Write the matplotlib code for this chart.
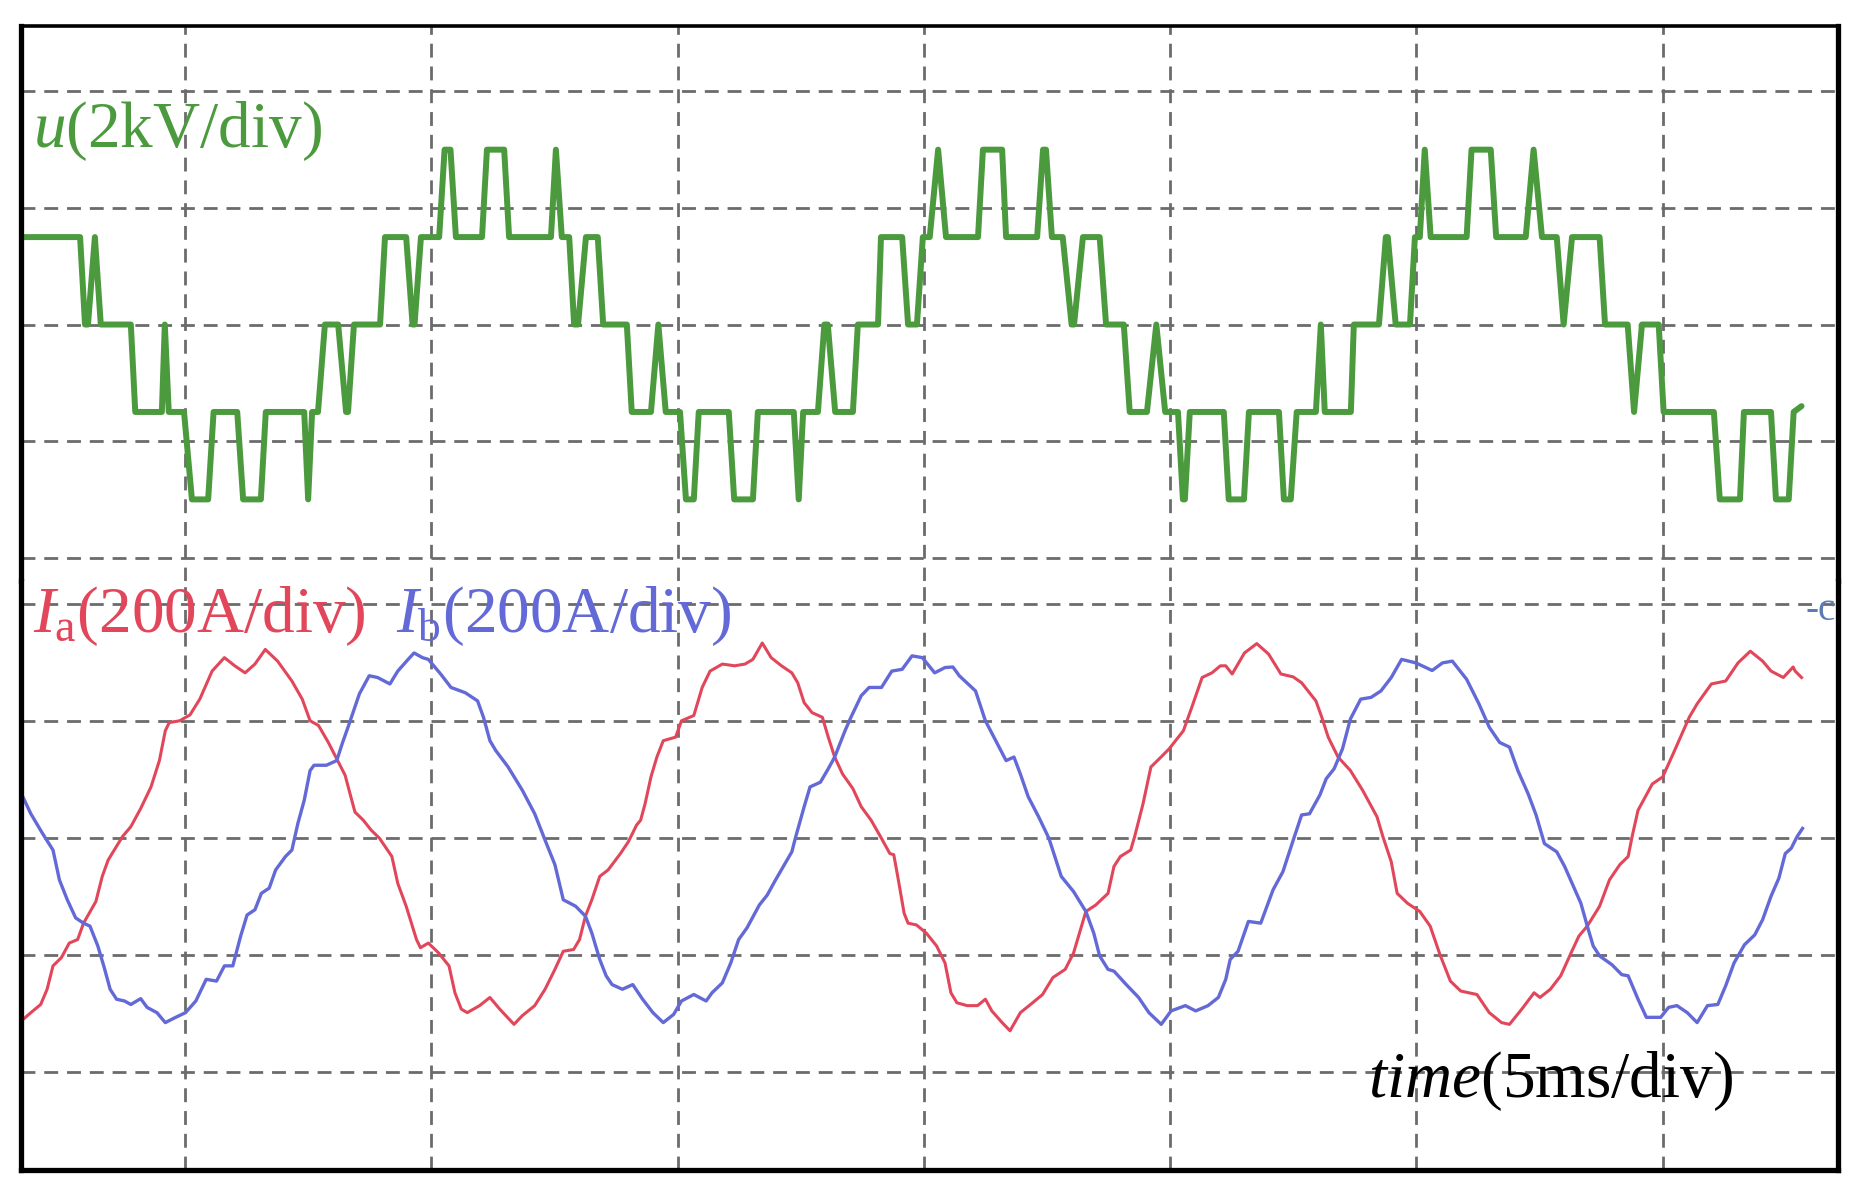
import matplotlib
matplotlib.use("Agg")
import matplotlib.pyplot as plt

# voltage u (kV) -- staircase breakpoints, time in ms
u_t = [-3.31, -2.13, -2.03, -1.97, -1.83, -1.71, -1.10, -1.01, -0.47, -0.41,
       -0.33, -0.02, 0.14, 0.47, 0.58, 1.06, 1.18, 1.54, 1.64, 2.42,
       2.50, 2.58, 2.70, 2.84, 3.11, 3.27, 3.31, 3.43, 3.96, 4.06,
       4.49, 4.62, 4.66, 4.79, 5.16, 5.27, 5.39, 5.50, 6.03, 6.13,
       6.48, 6.58, 7.43, 7.53, 7.65, 7.80, 7.90, 7.98, 8.14, 8.38,
       8.49, 8.97, 9.07, 9.46, 9.61, 9.76, 10.05, 10.17, 10.33, 10.43,
       11.04, 11.15, 11.53, 11.63, 12.36, 12.46, 12.55, 12.85, 12.98, 13.05,
       13.20, 13.56, 13.66, 14.07, 14.13, 14.56, 14.68, 14.86, 14.98, 15.12,
       15.29, 15.45, 16.10, 16.20, 16.59, 16.67, 17.30, 17.42, 17.48, 17.60,
       17.82, 18.00, 18.05, 18.23, 18.57, 18.70, 19.06, 19.18, 19.53, 19.72,
       19.90, 20.16, 20.26, 20.30, 20.40, 21.09, 21.19, 21.50, 21.60, 22.21,
       22.31, 22.45, 22.57, 22.96, 23.06, 23.14, 23.67, 23.73, 24.24, 24.38,
       24.42, 24.58, 24.87, 24.97, 25.07, 25.17, 25.29, 26.02, 26.12, 26.51,
       26.62, 27.22, 27.38, 27.55, 27.85, 27.99, 28.16, 28.72, 28.83, 29.29,
       29.42, 29.58, 29.92, 30.02, 31.04, 31.16, 31.57, 31.65, 32.20, 32.30,
       32.56, 32.66, 32.82]
u_kv = [1.5, 1.5, 0, 0, 1.5, 0, 0, -1.5, -1.5, 0,
        -1.5, -1.5, -3, -3, -1.5, -1.5, -3, -3, -1.5, -1.5,
        -3, -1.5, -1.5, 0, 0, -1.5, -1.5, 0, 0, 1.5,
        1.5, 0, 0, 1.5, 1.5, 3, 3, 1.5, 1.5, 3,
        3, 1.5, 1.5, 3, 1.5, 1.5, 0, 0, 1.5, 1.5,
        0, 0, -1.5, -1.5, 0, -1.5, -1.5, -3, -3, -1.5,
        -1.5, -3, -3, -1.5, -1.5, -3, -1.5, -1.5, 0, 0,
        -1.5, -1.5, 0, 0, 1.5, 1.5, 0, 0, 1.5, 1.5,
        3, 1.5, 1.5, 3, 3, 1.5, 1.5, 3, 3, 1.5,
        1.5, 0, 0, 1.5, 1.5, 0, 0, -1.5, -1.5, 0,
        -1.5, -1.5, -3, -3, -1.5, -1.5, -3, -3, -1.5, -1.5,
        -3, -3, -1.5, -1.5, 0, -1.5, -1.5, 0, 0, 1.5,
        1.5, 0, 0, 1.5, 1.5, 3, 1.5, 1.5, 3, 3,
        1.5, 1.5, 3, 1.5, 1.5, 0, 1.5, 1.5, 0, 0,
        -1.5, 0, 0, -1.5, -1.5, -3, -3, -1.5, -1.5, -3,
        -3, -1.5, -1.4]

# phase current Ia (A)
ia_t = [-3.32, -3.13, -2.93, -2.80, -2.68, -2.51, -2.35, -2.18, -2.06, -1.81,
        -1.68, -1.56, -1.27, -1.10, -0.90, -0.69, -0.52, -0.40, -0.32, -0.11,
        0.10, 0.30, 0.55, 0.80, 1.01, 1.22, 1.42, 1.63, 1.88, 2.17,
        2.38, 2.54, 2.71, 2.91, 3.08, 3.25, 3.45, 3.62, 3.78, 3.95,
        4.20, 4.32, 4.49, 4.70, 4.78, 4.94, 5.15, 5.36, 5.48, 5.61,
        5.73, 5.98, 6.19, 6.39, 6.68, 6.85, 7.10, 7.31, 7.51, 7.68,
        7.89, 8.01, 8.13, 8.26, 8.42, 8.59, 8.84, 9.00, 9.17,
        9.25, 9.34, 9.46, 9.58, 9.71, 9.96, 10.08, 10.33, 10.50, 10.66,
        10.91, 11.16, 11.37, 11.53, 11.72, 11.90, 12.11, 12.32, 12.44, 12.57,
        12.73, 12.94, 13.06, 13.19, 13.35, 13.56, 13.73, 13.93, 14.14, 14.31,
        14.39, 14.47, 14.60, 14.68, 14.85, 15.05, 15.26, 15.43, 15.55, 15.67,
        15.88, 16.09, 16.25, 16.38, 16.59, 16.75, 16.96, 17.21, 17.41, 17.62,
        17.87, 18.04, 18.16, 18.29, 18.49, 18.74, 18.86, 18.99, 19.20, 19.28,
        19.45, 19.61, 19.78, 19.98, 20.27, 20.44, 20.65, 20.85, 21.02,
        21.13, 21.26, 21.51, 21.76, 22.00, 22.25, 22.50, 22.67, 22.96, 23.08,
        23.21, 23.41, 23.66, 23.91, 24.20, 24.32, 24.49, 24.61, 24.82, 25.07,
        25.28, 25.48, 25.69, 25.90, 26.23, 26.48, 26.73, 26.89, 27.14, 27.39,
        27.51, 27.72, 27.93, 28.14, 28.30, 28.47, 28.72, 28.92, 29.13, 29.30,
        29.38, 29.50, 29.79, 30.00, 30.21, 30.54, 30.70, 30.99, 31.28, 31.53,
        31.78, 32.03, 32.20, 32.45, 32.65, 32.69, 32.82]
ia_a = [-313, -299, -285, -259, -219, -205, -180, -174, -146, -109,
        -66, -38, 2, 19, 50, 87, 132, 183, 197, 200,
        210, 237, 285, 308, 294, 282, 297, 322, 302, 268,
        237, 200, 192, 163, 135, 107, 44, 30, 13, -1,
        -32, -78, -117, -174, -188, -180, -197, -219, -265, -293,
        -299, -287, -273, -293, -319, -304, -287, -259, -225, -194,
        -191, -174, -134, -106, -66, -55, -27, -7, 22,
        30, 58, 104, 138, 166, 172, 200, 209, 257, 285,
        297, 294, 297, 305, 333, 308, 294, 282, 265, 231,
        214, 206, 172, 138, 109, 84, 53, 30, -1, -27,
        -29, -66, -129, -146, -149, -163, -185, -214, -265, -282,
        -287, -287, -276, -296, -316, -330, -299, -282, -268, -239,
        -225, -197, -163, -126, -115, -95, -49, -32, -21, 2,
        58, 121, 135, 152, 183, 223, 274, 282, 294,
        294, 280, 316, 332, 314, 280, 275, 265, 234, 206,
        172, 138, 115, 81, 36, 2, -41, -95, -112, -126,
        -151, -200, -245, -262, -268, -299, -316, -319, -293, -265,
        -273, -259, -236, -197, -168, -151, -117, -72, -46, -32,
        2, 47, 92, 104, 143, 206, 229, 263, 268, 299,
        319, 302, 285, 274, 292, 285, 274]

# phase current Ib (A)
ib_t = [-3.32, -3.13, -2.89, -2.68, -2.55, -2.39, -2.22, -2.06, -1.93, -1.77,
        -1.64, -1.52, -1.39, -1.23, -1.10, -0.90, -0.77, -0.57, -0.40, -0.19,
        0.01, 0.22, 0.35, 0.43, 0.64, 0.80, 0.97, 1.13, 1.26, 1.42,
        1.55, 1.71, 1.84, 2.04, 2.17, 2.29, 2.42, 2.54, 2.62, 2.87,
        3.08, 3.20, 3.33, 3.54, 3.74, 3.91, 4.16, 4.32, 4.53, 4.65,
        4.82, 4.94, 5.19, 5.40, 5.69, 5.94, 6.06, 6.19, 6.31, 6.56,
        6.85, 7.10, 7.31, 7.51, 7.68, 7.93, 8.13, 8.26, 8.42,
        8.55, 8.67, 8.88, 9.09, 9.29, 9.50, 9.71, 9.92, 10.08, 10.33,
        10.58, 10.70, 10.91, 11.08, 11.24, 11.41, 11.66, 11.82, 11.99, 12.32,
        12.40, 12.57, 12.69, 12.90, 13.06, 13.19, 13.40, 13.52, 13.73, 13.89,
        14.14, 14.35, 14.56, 14.76, 14.97, 15.22, 15.43, 15.59, 15.72, 16.05,
        16.25, 16.46, 16.67, 16.83, 16.96, 17.12, 17.33, 17.54, 17.66, 17.79,
        18.04, 18.29, 18.45, 18.57, 18.74, 18.86, 19.11, 19.36, 19.57, 19.82,
        20.02, 20.31, 20.52, 20.77, 20.98,
        21.13, 21.22, 21.38, 21.59, 21.84, 22.09, 22.29, 22.50, 22.67, 22.83,
        23.04, 23.17, 23.33, 23.50, 23.66, 23.87, 24.08, 24.28, 24.49, 24.70,
        24.99, 25.32, 25.53, 25.73, 26.02, 26.27, 26.48, 26.69, 26.89, 27.06,
        27.27, 27.43, 27.60, 27.85, 28.01, 28.22, 28.34, 28.47, 28.59, 28.72,
        28.97, 29.17, 29.30, 29.50, 29.67, 29.96, 30.12, 30.29, 30.50, 30.70,
        30.91, 31.12, 31.28, 31.45, 31.66, 31.87, 32.03, 32.20, 32.36, 32.49,
        32.61, 32.73, 32.84]
ib_a = [75, 41, 7, -21, -72, -106, -137, -146, -151, -185,
        -222, -259, -276, -279, -285, -275, -290, -299, -316, -307,
        -299, -279, -256, -242, -245, -219, -219, -168, -132, -123,
        -95, -86, -55, -32, -21, 24, 64, 115, 124, 124,
        132, 163, 194, 246, 277, 274, 263, 285, 305, 316,
        308, 305, 280, 257, 248, 234, 206, 166, 149, 121,
        81, 41, -4, -46, -106, -117, -134, -163, -208,
        -236, -251, -259, -251, -276, -299, -316, -302, -279, -268,
        -279, -265, -248, -214, -174, -154, -115, -98, -72, -24,
        2, 53, 87, 95, 118, 138, 183, 206, 243, 257,
        257, 285, 288, 311, 308, 282, 291, 292, 277, 251,
        200, 166, 132, 138, 109, 70, 36, -1, -32, -66,
        -92, -126, -163, -202, -225, -228, -251, -273, -299, -319,
        -296, -287, -296, -287, -273,
        -242, -208, -194, -143, -146, -89, -58, -4, 39, 41,
        73, 101, 118, 152, 203, 237, 240, 251, 274, 305,
        299, 286, 299, 302, 271, 229, 189, 163, 155, 115,
        75, 39, -10, -24, -49, -89, -112, -151, -185, -202,
        -217, -234, -236, -276, -307, -307, -290, -287, -299, -316,
        -287, -285, -253, -214, -183, -166, -140, -100, -69, -27,
        -18, 2, 16]

grid_t = [0, 5, 10, 15, 20, 25, 30]
grid_u = [-4, -2, 0, 2, 4]
grid_i = [-400, -200, 0, 200, 400]

green = '#4b9a3d'
red = '#e2465a'
blue = '#6369d6'
gridc = '#6b6b6b'

plt.rcParams['mathtext.fontset'] = 'custom'
plt.rcParams['mathtext.rm'] = 'Liberation Serif'
plt.rcParams['mathtext.it'] = 'Liberation Serif:italic'

W, H = 1860, 1195
fig = plt.figure(figsize=(W / 100, H / 100), dpi=100)


def box(x0, y0, x1, y1):
    return [x0 / W, 1 - y1 / H, (x1 - x0) / W, (y1 - y0) / H]


ax_u = fig.add_axes(box(20.5, 25.5, 1837.5, 581))
ax_i = fig.add_axes(box(20.5, 581, 1837.5, 1170))

for ax in (ax_u, ax_i):
    ax.set_xlim(-3.34, 33.55)
    ax.set_xticks(grid_t)
    ax.tick_params(length=0, labelbottom=False, labelleft=False)
    ax.grid(True, color=gridc, lw=2.0, ls=(0, (5.0, 3.2)))
    ax.set_axisbelow(True)
    for s in ('left', 'right'):
        ax.spines[s].set_linewidth(3.8)
        ax.spines[s].set_color('black')

ax_u.set_ylim(-4.40, 5.13)
ax_u.set_yticks(grid_u)
ax_u.spines['bottom'].set_visible(False)
ax_u.spines['top'].set_linewidth(2.6)

ax_i.set_ylim(-568, 439)
ax_i.set_yticks(grid_i)
ax_i.spines['top'].set_visible(False)
ax_i.spines['bottom'].set_linewidth(3.8)

ax_u.plot(u_t, u_kv, color=green, lw=4.3, solid_joinstyle='round',
          solid_capstyle='round')
ax_i.plot(ia_t, ia_a, color=red, lw=2.2, solid_joinstyle='round')
ax_i.plot(ib_t, ib_a, color=blue, lw=2.4, solid_joinstyle='round')

# small stray mark at the right edge of the current screen
ax_i.text(32.9, 388, '-c', color='#5a7bb5', fontsize=28, va='center',
          family='Liberation Serif', clip_on=True)

fs = 47
fig.text(33 / W, 1 - 147 / H, r'$u$(2kV/div)', color=green, fontsize=fs,
         family='Liberation Serif', va='baseline', ha='left')
fig.text(33 / W, 1 - 632 / H, r'$I_{\mathrm{a}}$(200A/div)', color=red,
         fontsize=fs, family='Liberation Serif', va='baseline', ha='left')
fig.text(396 / W, 1 - 632 / H, r'$I_{\mathrm{b}}$(200A/div)', color=blue,
         fontsize=fs, family='Liberation Serif', va='baseline', ha='left')
fig.text(1733 / W, 1 - 1097 / H, r'$time$(5ms/div)', color='black',
         fontsize=fs, family='Liberation Serif', va='baseline', ha='right')

fig.savefig('out.png', dpi=100)
